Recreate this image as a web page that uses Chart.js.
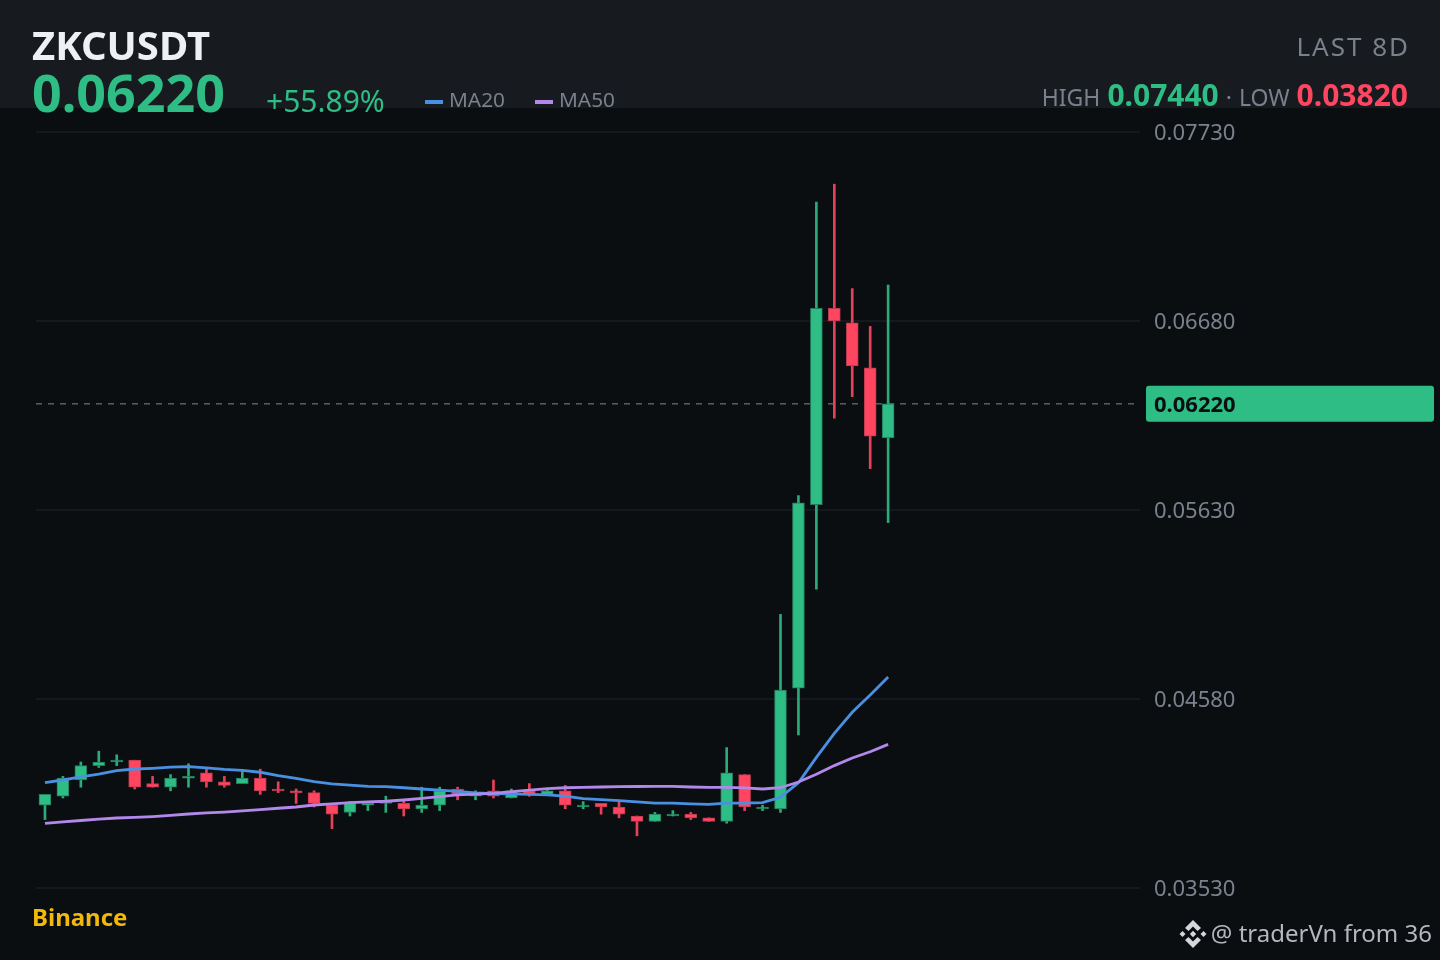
<!DOCTYPE html>
<html>
<head>
<meta charset="utf-8">
<title>ZKCUSDT</title>
<script src="https://cdn.jsdelivr.net/npm/chart.js@4"></script>
<style>
    html, body { margin: 0; padding: 0; background: #0b0e11; }
    body { width: 1440px; height: 960px; position: relative; overflow: hidden; font-family: "Noto Sans", sans-serif; }
    #header-bg { position: absolute; left: 0; top: 0; width: 1440px; height: 108px; background: #171a1f; }
    canvas { position: absolute; left: 0; top: 0; }
    .txt { position: absolute; white-space: nowrap; line-height: 1; }
    #symbol { left: 32px; top: 25px; font-size: 40px; font-weight: 700; color: #eef0f4; }
    #price { left: 32px; top: 66px; font-size: 52px; font-weight: 700; color: #2ebd85; }
    #change { left: 266px; top: 86px; font-size: 30px; color: #2ebd85; }
    .legend-swatch { position: absolute; top: 100px; width: 18px; height: 4px; }
    .legend-label { top: 89px; font-size: 20.8px; color: #7a808c; }
    #range { right: 30px; top: 33px; font-size: 26px; letter-spacing: 2px; color: #7a808c; }
    #highlow { right: 32px; top: 80px; font-size: 23px; word-spacing: 1px; color: #7a808c; }
    #highlow b { font-size: 30px; font-weight: 700; }
    #exchange { left: 32px; top: 905px; font-size: 24px; font-weight: 700; color: #f0b90b; }
    #credit { right: 8px; top: 921px; font-size: 24px; color: #b4b8be; }
    #logo { position: absolute; left: 1179px; top: 920px; width: 28px; height: 28px; }
</style>
</head>
<body>
<div id="header-bg"></div>
<canvas id="candles" width="1440" height="960"></canvas>
<div class="txt" id="symbol">ZKCUSDT</div>
<div class="txt" id="price">0.06220</div>
<div class="txt" id="change">+55.89%</div>
<div class="legend-swatch" style="left:425px;background:#4a90e2"></div>
<div class="txt legend-label" style="left:449px">MA20</div>
<div class="legend-swatch" style="left:535px;background:#b388eb"></div>
<div class="txt legend-label" style="left:559px">MA50</div>
<div class="txt" id="range">LAST 8D</div>
<div class="txt" id="highlow">HIGH <b style="color:#2ebd85">0.07440</b> · LOW <b style="color:#ff4560">0.03820</b></div>
<div class="txt" id="exchange">Binance</div>
<svg id="logo" viewBox="0 0 28 28">
    <g fill="#d4d7db">
        <path d="M14 0 L22 8 L18.5 11 L14 6.5 L9.5 11 L6 8 Z"/>
        <path d="M14 28 L22 20 L18.5 17 L14 21.5 L9.5 17 L6 20 Z"/>
        <path d="M14 10.8 L17.2 14 L14 17.2 L10.8 14 Z"/>
        <path d="M3.5 11 L6.5 14 L3.5 17 L0.5 14 Z"/>
        <path d="M24.5 11 L27.5 14 L24.5 17 L21.5 14 Z"/>
    </g>
</svg>
<div class="txt" id="credit">@ traderVn from 36</div>

<script>
// Candles, oldest first
const opens = [0.0399, 0.0404, 0.0413, 0.0421, 0.0423, 0.0424, 0.0411, 0.0409, 0.0414, 0.0417, 0.0412, 0.0411,
    0.0414, 0.0408, 0.0407, 0.0406, 0.0399, 0.0395, 0.0399, 0.0400, 0.0400, 0.0397, 0.0399, 0.0408,
    0.0404, 0.0407, 0.0403, 0.0407, 0.0405, 0.0407, 0.0398, 0.0400, 0.0398, 0.0393, 0.0390, 0.0393,
    0.0394, 0.0392, 0.0390, 0.0416, 0.0397, 0.0397, 0.0464, 0.0566, 0.0675, 0.0667, 0.0642, 0.0603];
const closes = [0.0405, 0.0414, 0.0421, 0.0423, 0.0424, 0.0409, 0.0409, 0.0414, 0.0415, 0.0412, 0.0410, 0.0414,
    0.0407, 0.0407, 0.0406, 0.0400, 0.0394, 0.0400, 0.0400, 0.0401, 0.0397, 0.0399, 0.0407, 0.0405,
    0.0406, 0.0404, 0.0407, 0.0405, 0.0407, 0.0399, 0.0399, 0.0398, 0.0394, 0.0390, 0.0394, 0.0394,
    0.0392, 0.0390, 0.0417, 0.0398, 0.0398, 0.0463, 0.0567, 0.0675, 0.0668, 0.0643, 0.0604, 0.0622];
const highs = [0.0405, 0.0415, 0.0423, 0.0429, 0.0427, 0.0424, 0.0415, 0.0416, 0.0422, 0.0419, 0.0415, 0.0418,
    0.0419, 0.0412, 0.0408, 0.0407, 0.0400, 0.0401, 0.0401, 0.0404, 0.0402, 0.0409, 0.0409, 0.0409,
    0.0407, 0.0413, 0.0408, 0.0411, 0.0408, 0.0410, 0.0401, 0.0400, 0.0401, 0.0393, 0.0395, 0.0396,
    0.0395, 0.0392, 0.0431, 0.0416, 0.0399, 0.0505, 0.0571, 0.0734, 0.0744, 0.0686, 0.0665, 0.0688];
const lows = [0.0391, 0.0403, 0.0409, 0.0420, 0.0421, 0.0408, 0.0409, 0.0407, 0.0409, 0.0409, 0.0409, 0.0411,
    0.0405, 0.0406, 0.0400, 0.0398, 0.0386, 0.0393, 0.0396, 0.0395, 0.0393, 0.0395, 0.0396, 0.0402,
    0.0402, 0.0403, 0.0403, 0.0404, 0.0405, 0.0397, 0.0397, 0.0394, 0.0392, 0.0382, 0.0390, 0.0393,
    0.0391, 0.0390, 0.0389, 0.0396, 0.0396, 0.0395, 0.0438, 0.0519, 0.0614, 0.0626, 0.0586, 0.0556];

// Moving averages
const ma20 = [0.04115, 0.0413, 0.04148, 0.04162, 0.04182, 0.04191, 0.04195, 0.04201, 0.04204, 0.04197, 0.04189, 0.04184,
    0.04173, 0.04154, 0.04139, 0.04121, 0.04109, 0.04101, 0.04095, 0.04093, 0.04087, 0.0408, 0.04074, 0.04067,
    0.04058, 0.04054, 0.04053, 0.0405, 0.04047, 0.04041, 0.04026, 0.04021, 0.04015, 0.04008, 0.04002, 0.04001,
    0.03997, 0.03995, 0.04002, 0.04002, 0.04004, 0.04034, 0.04115, 0.04256, 0.04389, 0.04506, 0.04602, 0.04702];
const ma50 = [0.03889, 0.03897, 0.03905, 0.03913, 0.03919, 0.03922, 0.03927, 0.03934, 0.03941, 0.03947, 0.03952, 0.03958,
    0.03965, 0.03973, 0.0398, 0.03991, 0.03997, 0.04004, 0.04008, 0.04012, 0.04019, 0.04028, 0.04038, 0.04047,
    0.04052, 0.04056, 0.04065, 0.04074, 0.04082, 0.04087, 0.04089, 0.04091, 0.04093, 0.04094, 0.04095, 0.04095,
    0.04091, 0.04089, 0.04089, 0.04086, 0.0408, 0.04087, 0.04119, 0.04162, 0.0421, 0.04252, 0.04287, 0.04328];

const yTicks = [0.0353, 0.0458, 0.0563, 0.0668, 0.0773];
const lastPrice = 0.0622;

const green = '#2ebd85';
const red = '#ff4560';
const candleColors = opens.map((o, i) => closes[i] >= o ? green : red);
const wickColors = opens.map((o, i) => closes[i] >= o ? '#2aab79' : '#e84059');
const candleEdges = opens.map((o, i) => closes[i] >= o ? '#23795b' : '#b93a4f');

// Dashed line and price tag at the last price
const lastPricePlugin = {
    id: 'lastPrice',
    beforeDatasetsDraw(chart) {
        const y = chart.scales.y.getPixelForValue(lastPrice);
        const c = chart.ctx;
        c.save();
        c.strokeStyle = '#5a5f66';
        c.lineWidth = 1.5;
        c.setLineDash([6, 6]);
        c.beginPath();
        c.moveTo(36, y);
        c.lineTo(1134, y);
        c.stroke();
        c.restore();
    },
    afterDraw(chart) {
        const y = chart.scales.y.getPixelForValue(lastPrice);
        const c = chart.ctx;
        c.save();
        c.fillStyle = green;
        c.beginPath();
        c.roundRect(1146, y - 18, 288, 36, 3);
        c.fill();
        c.fillStyle = '#0b0e11';
        c.font = '700 22px "Noto Sans"';
        c.textBaseline = 'middle';
        c.fillText(lastPrice.toFixed(5), 1154, y + 2);
        c.restore();
    }
};

const ctx = document.getElementById('candles').getContext('2d');
new Chart(ctx, {
    type: 'bar',
    data: {
        datasets: [
            {
                label: 'MA50',
                type: 'line',
                data: ma50.map((v, i) => ({ x: i, y: v })),
                borderColor: '#b388eb',
                borderWidth: 2.8,
                pointRadius: 0,
                tension: 0,
                order: 1
            },
            {
                label: 'MA20',
                type: 'line',
                data: ma20.map((v, i) => ({ x: i, y: v })),
                borderColor: '#4a90e2',
                borderWidth: 2.8,
                pointRadius: 0,
                tension: 0,
                order: 2
            },
            {
                label: 'Body',
                data: opens.map((o, i) => ({ x: i, y: [o, closes[i]] })),
                backgroundColor: candleColors,
                borderColor: candleEdges,
                borderWidth: 1,
                borderSkipped: false,
                barThickness: 12,
                grouped: false,
                order: 3
            },
            {
                label: 'Wick',
                data: lows.map((l, i) => ({ x: i, y: [l, highs[i]] })),
                backgroundColor: wickColors,
                barThickness: 2,
                grouped: false,
                order: 4
            }
        ]
    },
    options: {
        responsive: false,
        animation: false,
        devicePixelRatio: 1,
        layout: { padding: { left: 36, top: 132, right: 0, bottom: 72 } },
        plugins: { legend: { display: false }, tooltip: { enabled: false } },
        scales: {
            x: { type: 'linear', display: false, min: -0.5, max: 61.04, offset: false, grid: { display: false } },
            y: {
                position: 'right',
                min: 0.0353,
                max: 0.0773,
                afterBuildTicks: axis => { axis.ticks = yTicks.map(v => ({ value: v })); },
                afterFit: axis => { axis.width = 300; },
                border: { display: false },
                grid: { color: '#15191d', lineWidth: 2, drawTicks: false },
                ticks: {
                    color: '#7b818d',
                    padding: 14,
                    labelOffset: 2,
                    font: { family: '"Noto Sans"', size: 22 },
                    callback: v => v.toFixed(5)
                }
            }
        }
    },
    plugins: [lastPricePlugin]
});
</script>
</body>
</html>
